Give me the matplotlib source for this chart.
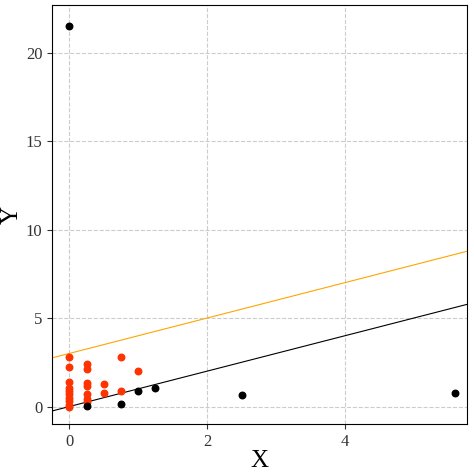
import matplotlib
matplotlib.use("Agg")
import matplotlib.pyplot as plt

# red points
red_x = [0, 0, 0, 0, 0, 0, 0, 0, 0, 0,
         0.25, 0.25, 0.25, 0.25, 0.25, 0.25, 0.25,
         0.5, 0.5, 0.75, 0.75, 1.0]
red_y = [2.8, 2.25, 1.4, 1.05, 0.9, 0.7, 0.5, 0.3, 0.1, 0.0,
         2.4, 2.1, 1.35, 1.15, 0.7, 0.4, 0.25,
         1.3, 0.75, 2.8, 0.85, 2.0]
# black points
blk_x = [0, 0.25, 0.75, 1.0, 1.25, 2.5, 5.6]
blk_y = [21.5, 0.03, 0.12, 0.9, 1.05, 0.65, 0.75]
# lines: y = slope * x + intercept
line_x = [-0.25, 5.77]
black_line = (1.0, 0.0)
orange_line = (1.0, 3.0)

plt.rcParams['font.family'] = ['Liberation Serif', 'DejaVu Serif']
fig, ax = plt.subplots(figsize=(4.74, 4.74), dpi=100)

ax.plot(line_x, [black_line[0] * x + black_line[1] for x in line_x], color='black', lw=0.8)
ax.plot(line_x, [orange_line[0] * x + orange_line[1] for x in line_x], color='orange', lw=0.8)
ax.scatter(red_x, red_y, color='#ff3300', s=22, zorder=3)
ax.scatter(blk_x, blk_y, color='black', s=22, zorder=3)

ax.set_xlim(-0.25, 5.77)
ax.set_ylim(-1.0, 22.7)
ax.set_xticks([0, 2, 4])
ax.set_yticks([0, 5, 10, 15, 20])
ax.grid(True, linestyle='--', color='#cccccc', lw=0.8)
ax.set_axisbelow(True)
ax.tick_params(labelsize=12, colors='#333333')
ax.set_xlabel('X', fontsize=18, labelpad=0)
ax.set_ylabel('Y', fontsize=18, labelpad=2)

fig.subplots_adjust(left=0.11, right=0.985, top=0.99, bottom=0.105)
fig.savefig('out.png')
